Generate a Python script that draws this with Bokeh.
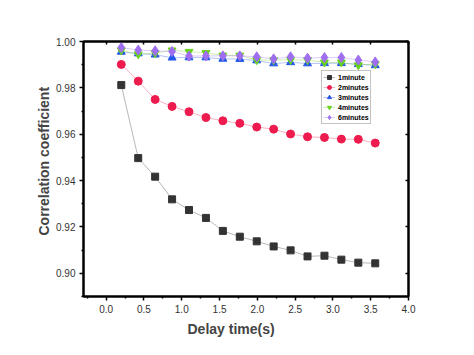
from bokeh.plotting import figure
from bokeh.models import (FixedTicker, PrintfTickFormatter, LinearAxis, Title, Range1d)
from bokeh.embed import file_html
from bokeh.resources import INLINE

delay = [0.2, 0.424, 0.648, 0.872, 1.096, 1.32, 1.544, 1.768, 1.992, 2.216,
         2.44, 2.664, 2.888, 3.112, 3.336, 3.56]
m1 = [0.9812, 0.9497, 0.9417, 0.9319, 0.9273, 0.9239, 0.9183, 0.9158, 0.9138,
      0.9116, 0.9099, 0.9073, 0.9076, 0.9059, 0.9046, 0.9043]
m2 = [0.9901, 0.9829, 0.9750, 0.9720, 0.9697, 0.9672, 0.9658, 0.9647, 0.9631,
      0.9622, 0.9601, 0.9589, 0.9586, 0.9579, 0.9578, 0.9562]
m3 = [0.9955, 0.9948, 0.9943, 0.9930, 0.9931, 0.9931, 0.9925, 0.9924, 0.9918,
      0.9905, 0.9910, 0.9905, 0.9906, 0.9906, 0.9902, 0.9897]
m4 = [0.9962, 0.9945, 0.9950, 0.9962, 0.9956, 0.9951, 0.9940, 0.9940, 0.9920,
      0.9920, 0.9921, 0.9920, 0.9910, 0.9910, 0.9898, 0.9903]
m6 = [0.9974, 0.9963, 0.9960, 0.9957, 0.9937, 0.9938, 0.9938, 0.9938, 0.9934,
      0.9925, 0.9934, 0.9928, 0.9931, 0.9931, 0.9920, 0.9912]

labels = ["1minute", "2minutes", "3minutes", "4minutes", "6minutes"]
x_ticks = [0.0, 0.5, 1.0, 1.5, 2.0, 2.5, 3.0, 3.5, 4.0]
y_ticks = [0.90, 0.92, 0.94, 0.96, 0.98, 1.00]
x_title = "Delay time(s)"
y_title = "Correlation coefficient"

FONT = "Liberation Sans"

p = figure(width=466, height=347, output_backend="svg", toolbar_location=None,
           x_range=Range1d(-0.3, 4.0), y_range=Range1d(0.89, 1.0),
           min_border_left=83, min_border_right=58, min_border_top=41,
           min_border_bottom=51)
p.xgrid.visible = False
p.ygrid.visible = False
p.outline_line_color = "black"
p.outline_line_width = 2
p.background_fill_color = "white"
p.border_fill_color = "white"

xt = FixedTicker(ticks=x_ticks, minor_ticks=[-0.25 + 0.5 * i for i in range(9)])
yt = FixedTicker(ticks=y_ticks, minor_ticks=[0.89 + 0.02 * i for i in range(6)])

for ax, tk, fmt in ((p.xaxis[0], xt, "%.1f"), (p.yaxis[0], yt, "%.2f")):
    ax.ticker = tk
    ax.formatter = PrintfTickFormatter(format=fmt)
    ax.axis_line_width = 2
    ax.axis_line_color = "black"
    ax.major_tick_line_width = 1.5
    ax.major_tick_in = 0
    ax.major_tick_out = 4
    ax.minor_tick_in = 0
    ax.minor_tick_out = 2
    ax.minor_tick_line_width = 1.5
    ax.major_label_text_font = FONT
    ax.major_label_text_font_size = "10px"
    ax.major_label_text_color = "#333333"
    ax.major_label_standoff = 4

# mirror axes: inward ticks only, no labels (ticks given as minor ticks)
top = LinearAxis(ticker=FixedTicker(ticks=[], minor_ticks=x_ticks),
                 major_tick_in=0, major_tick_out=0, minor_tick_in=3, minor_tick_out=0,
                 minor_tick_line_width=1.5, axis_line_width=2)
right = LinearAxis(ticker=FixedTicker(ticks=[], minor_ticks=y_ticks),
                   major_tick_in=0, major_tick_out=0, minor_tick_in=3, minor_tick_out=0,
                   minor_tick_line_width=1.5, axis_line_width=2)
p.add_layout(top, "above")
p.add_layout(right, "right")

series = [
    (m1, "#333333", "square", 7),
    (m2, "#ee1c4e", "circle", 8),
    (m3, "#2257e6", "triangle", 8),
    (m4, "#6ad21e", "inverted_triangle", 8),
    (m6, "#9f6ff0", "diamond", 10),
]
for (vals, col, mk, sz), lab in zip(series, labels):
    p.line(delay, vals, line_color=col, line_alpha=0.35, line_width=1, legend_label=lab)
    p.scatter(delay, vals, marker=mk, size=sz, fill_color=col, line_color=col,
              legend_label=lab)

lg = p.legend[0]
lg.location = (238, 172)
lg.label_text_font = FONT
lg.label_text_font_size = "7px"
lg.label_text_font_style = "bold"
lg.label_text_color = "black"
lg.glyph_width = 12
lg.glyph_height = 10
lg.label_height = 10
lg.label_standoff = 3
lg.spacing = 0
lg.padding = 1
lg.margin = 0
lg.border_line_color = "#888888"
lg.border_line_width = 1
lg.background_fill_alpha = 1.0

p.add_layout(Title(text=x_title, align="left", offset=104, text_font=FONT,
                   text_font_size="14px", text_font_style="bold", standoff=7), "below")
p.add_layout(Title(text=y_title, align="left", offset=61, text_font=FONT,
                   text_font_size="14px", text_font_style="bold", standoff=4), "left")

open("out.html", "w").write(file_html(p, INLINE))
